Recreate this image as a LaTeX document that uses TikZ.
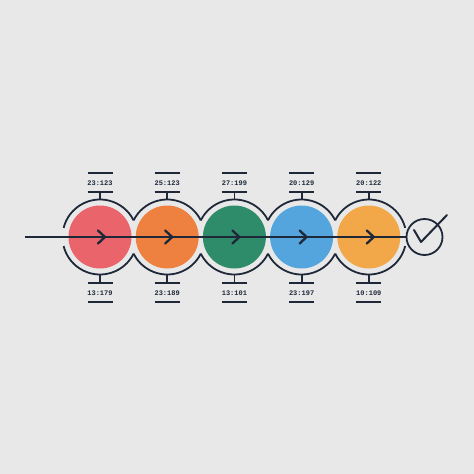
\documentclass[tikz,border=0pt]{standalone}
\usepackage{fontspec}
\setmonofont{Liberation Mono}
\usetikzlibrary{calc}
\definecolor{bg}{HTML}{E8E8E8}
\definecolor{ink}{HTML}{1F2839}
\definecolor{cred}{HTML}{E9656B}
\definecolor{corange}{HTML}{EF8140}
\definecolor{cgreen}{HTML}{2F8C6B}
\definecolor{cblue}{HTML}{54A5DD}
\definecolor{cyellow}{HTML}{F2A848}
\begin{document}
\begin{tikzpicture}[x=1pt,y=-1pt,
  ln/.style={draw=ink,line width=1.8pt},
  dot/.style={circle,inner sep=0pt,minimum size=63pt},
  lbl/.style={font=\ttfamily\bfseries\fontsize{7}{8}\selectfont,text=ink,inner sep=0pt},
  chev/.style={draw=ink,line width=2.3pt,line cap=round,line join=round}]
\fill[bg] (0,0) rectangle (474,474);
\useasboundingbox (0,0) rectangle (474,474);
\def\R{37.5}
\def\th{26.4}
\def\gp{14}
\foreach \i/\col/\tp/\bt in {0/cred/23:123/13:179,1/corange/25:123/23:189,2/cgreen/27:199/13:101,3/cblue/20:129/23:197,4/cyellow/20:122/10:109}{
  \pgfmathsetmacro{\cx}{100+67.2*\i}
  \node[dot,fill=\col] (c\i) at (\cx,237) {};
  % ring arcs
  \ifnum\i=0
    \draw[ln] (c\i.center) ++(180+\gp:\R) arc[start angle=180+\gp,end angle=360-\th,radius=\R];
    \draw[ln] (c\i.center) ++(\th:\R) arc[start angle=\th,end angle=180-\gp,radius=\R];
  \else\ifnum\i=4
    \draw[ln] (c\i.center) ++(180+\th:\R) arc[start angle=180+\th,end angle=360-\gp,radius=\R];
    \draw[ln] (c\i.center) ++(\gp:\R) arc[start angle=\gp,end angle=180-\th,radius=\R];
  \else
    \draw[ln] (c\i.center) ++(180+\th:\R) arc[start angle=180+\th,end angle=360-\th,radius=\R];
    \draw[ln] (c\i.center) ++(\th:\R) arc[start angle=\th,end angle=180-\th,radius=\R];
  \fi\fi
  % top marker
  \coordinate (rt\i) at (\cx,237-\R);
  \coordinate (st\i) at (\cx,192);
  \draw[ln] (rt\i) -- (st\i);
  \draw[ln] (\cx-12.5,192) -- (\cx+12.5,192);
  \node[lbl] (t\i) at (\cx,183) {\tp};
  \draw[ln] (\cx-12.5,173) -- (\cx+12.5,173);
  % bottom marker
  \coordinate (rb\i) at (\cx,237+\R);
  \coordinate (sb\i) at (\cx,283);
  \draw[ln] (rb\i) -- (sb\i);
  \draw[ln] (\cx-12.5,283) -- (\cx+12.5,283);
  \node[lbl] (b\i) at (\cx,293) {\bt};
  \draw[ln] (\cx-12.5,302) -- (\cx+12.5,302);
}
\node[circle,ln,inner sep=0pt,minimum size=36pt] (chk) at (424.5,237) {};
\coordinate (start) at (25,237);
\draw[ln] (start) -- (chk.west);
\foreach \i in {0,...,4}{
  \draw[chev] ($(c\i.center)+(-2,-6.5)$) -- ($(c\i.center)+(5,0)$) -- ($(c\i.center)+(-2,6.5)$);
}
\draw[draw=ink,line width=2pt,line cap=round,line join=round] (414,230) -- (421,242) -- (447,215);
\end{tikzpicture}
\end{document}
